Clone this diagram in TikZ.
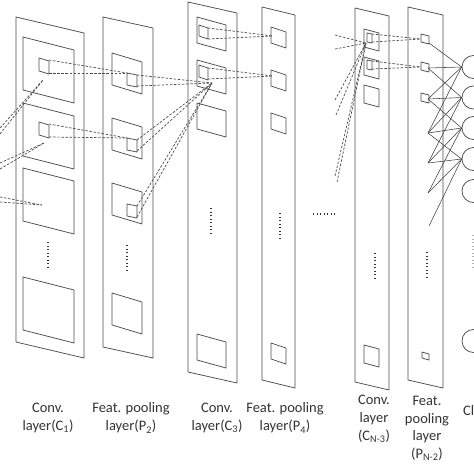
\documentclass[tikz,border=0pt]{standalone}
\usepackage{fontspec}
\setmainfont{Carlito}
\usepackage{amsmath}

\begin{document}
\begin{tikzpicture}[x=1pt, y=-1pt, line join=round,
  maps/.style={draw=black!70, line width=0.75pt},
  link/.style={black!70, line width=0.7pt, dash pattern=on 2.5pt off 1.6pt},
  wire/.style={black!75, line width=0.55pt},
  vdots/.style={black!80, line width=1.3pt, dash pattern=on 1.2pt off 2.3pt},
  neuron/.style={circle, draw=black!70, line width=0.75pt, minimum size=23pt, inner sep=0pt},
  caption/.style={font=\fontsize{14.5}{18}\selectfont, text=black!80, align=center}]
\useasboundingbox (0,0) rectangle (474,474);
\newcommand\fmap[5]{\draw[maps] (#1,#2) -- ++(#3,#4) -- ++(0,#5) -- ++(-#3,-#4) -- cycle;}
% layers
\fmap{16}{17}{68}{16}{325}
\fmap{103}{17}{50}{11}{330}
\fmap{188}{2}{49}{11}{370}
\fmap{262}{7}{33}{8}{373}
\fmap{355}{8}{34}{8}{374}
\fmap{408}{7}{35}{8}{373}
% feature maps
\foreach \y in {37,103,168,277} {\fmap{23}{\y}{51}{13}{53}}
\fmap{39}{58}{10}{3}{13}
\fmap{39}{122}{10}{3}{13}
\foreach \y in {53,118,183,293} {\fmap{112}{\y}{30}{9}{32}}
\foreach \y in {73,138,204} {\fmap{127}{\y}{10}{2}{12}}
\foreach \y in {17,60,103,334} {\fmap{197}{\y}{29}{8}{26}}
\fmap{199}{25}{9}{3}{11}
\fmap{199}{65}{9}{3}{12}
\foreach \y in {27,70,113,343} {\fmap{271}{\y}{15}{5}{16}}
\foreach \y in {29,57,85,345} {\fmap{364}{\y}{15}{4}{18}}
\foreach \y in {33,60} {\fmap{367}{\y}{5}{1}{9}}
\foreach \y in {34,62,93} {\fmap{421}{\y}{8}{2}{8}}
\fmap{422}{352}{7}{2}{6}
% dots
\draw[vdots] (48,242) -- (48,267);
\draw[vdots] (127,245) -- (127,270);
\draw[vdots] (211,208) -- (211,234);
\draw[vdots] (280,213) -- (280,240);
\draw[vdots] (313,214) -- (337,214);
\draw[vdots] (375,253) -- (375,280);
\draw[vdots] (427,252) -- (427,277);
\draw[vdots, black!30] (473,235) -- (473,270);
% input side
\coordinate (in1) at (0,128);
\coordinate (in2) at (0,134);
\coordinate (in3) at (0,163);
\coordinate (in4) at (0,169);
\coordinate (in5) at (0,197);
\coordinate (in6) at (0,202);
\coordinate (c1x) at (43,80);
\coordinate (c1y) at (44,143);
\coordinate (c1z) at (42,205);
\draw[link] (in1) -- (c1x);
\draw[link] (in2) -- (c1x);
\draw[link] (in3) -- (c1y);
\draw[link] (in4) -- (c1y);
\draw[link] (in5) -- (c1z);
\draw[link] (in6) -- (c1z);
% C1 -> P2
\coordinate (c1a) at (49,60);
\coordinate (c1b) at (49,73);
\coordinate (c1c) at (49,124);
\coordinate (c1d) at (49,137);
\coordinate (p2a) at (127,73);
\coordinate (p2b) at (127,138);
\draw[link] (c1a) -- (p2a);
\draw[link] (c1b) -- (p2a);
\draw[link] (c1c) -- (p2b);
\draw[link] (c1d) -- (p2b);
% P2 -> C3
\coordinate (p2c) at (137,75);
\coordinate (p2d) at (137,86);
\coordinate (p2e) at (137,140);
\coordinate (p2f) at (137,151);
\coordinate (p2g) at (137,206);
\coordinate (p2h) at (137,217);
\coordinate (c3x) at (212,83);
\foreach \p in {p2c,p2d,p2e,p2f,p2g,p2h} {\draw[link] (\p) -- (c3x);}
% C3 -> P4
\coordinate (c3a) at (208,28);
\coordinate (c3b) at (208,39);
\coordinate (c3c) at (208,68);
\coordinate (c3d) at (208,79);
\coordinate (p4a) at (273,36);
\coordinate (p4b) at (273,76);
\draw[link] (c3a) -- (p4a);
\draw[link] (c3b) -- (p4a);
\draw[link] (c3c) -- (p4b);
\draw[link] (c3d) -- (p4b);
% ... -> C_{N-3}
\coordinate (u1) at (335,35);
\coordinate (u2) at (335,49);
\coordinate (u3) at (335,100);
\coordinate (u4) at (336,115);
\coordinate (u5) at (335,176);
\coordinate (u6) at (337,182);
\coordinate (cnx) at (366,43);
\foreach \p in {u1,u2,u3,u4,u5,u6} {\draw[link] (\p) -- (cnx);}
% C_{N-3} -> P_{N-2}
\coordinate (cna) at (372,34);
\coordinate (cnb) at (372,42);
\coordinate (cnc) at (372,61);
\coordinate (cnd) at (372,69);
\coordinate (pna) at (421,39);
\coordinate (pnb) at (421,67);
\draw[link] (cna) -- (pna);
\draw[link] (cnb) -- (pna);
\draw[link] (cnc) -- (pnb);
\draw[link] (cnd) -- (pnb);
% classifier
\node[neuron] (o1) at (473.5,67) {};
\node[neuron] (o2) at (473.5,97.5) {};
\node[neuron] (o3) at (473.5,128) {};
\node[neuron] (o4) at (473.5,159) {};
\node[neuron] (o5) at (473.5,191) {};
\node[neuron] (o6) at (473.5,341) {};
\coordinate (a1) at (429,43);
\coordinate (a2) at (428,68);
\coordinate (a3) at (428,99);
\coordinate (a4) at (428,133);
\coordinate (a5) at (428,163);
\coordinate (a6) at (428,193);
\coordinate (a7) at (429,226);
\draw[wire] (a1) -- (o1.west);
\foreach \t in {o1,o2} {\draw[wire] (a2) -- (\t.west);}
\foreach \t in {o1,o2,o3} {\draw[wire] (a3) -- (\t.west);}
\foreach \t in {o1,o2,o3,o4} {\draw[wire] (a4) -- (\t.west);}
\foreach \t in {o2,o3,o4} {\draw[wire] (a5) -- (\t.west);}
\foreach \t in {o3,o4} {\draw[wire] (a6) -- (\t.west);}
\draw[wire] (a7) -- (o4.west);
% captions
\node[caption] (lc1) at (48,418) {Conv.\\layer(C\textsubscript{1})};
\node[caption] (lp2) at (131,418) {Feat. pooling\\layer(P\textsubscript{2})};
\node[caption] (lc3) at (217,418) {Conv.\\layer(C\textsubscript{3})};
\node[caption] (lp4) at (285,418) {Feat. pooling\\layer(P\textsubscript{4})};
\node[caption] (lcn) at (374,418.5) {Conv.\\layer\\(C\textsubscript{N-3})};
\node[caption, font=\fontsize{14.5}{17.7}\selectfont] (lpn) at (427,428.5) {Feat.\\pooling\\layer\\(P\textsubscript{N-2})};
\node[caption, anchor=west, inner sep=0pt] (lcl) at (463,411) {Cl};
\end{tikzpicture}
\end{document}
